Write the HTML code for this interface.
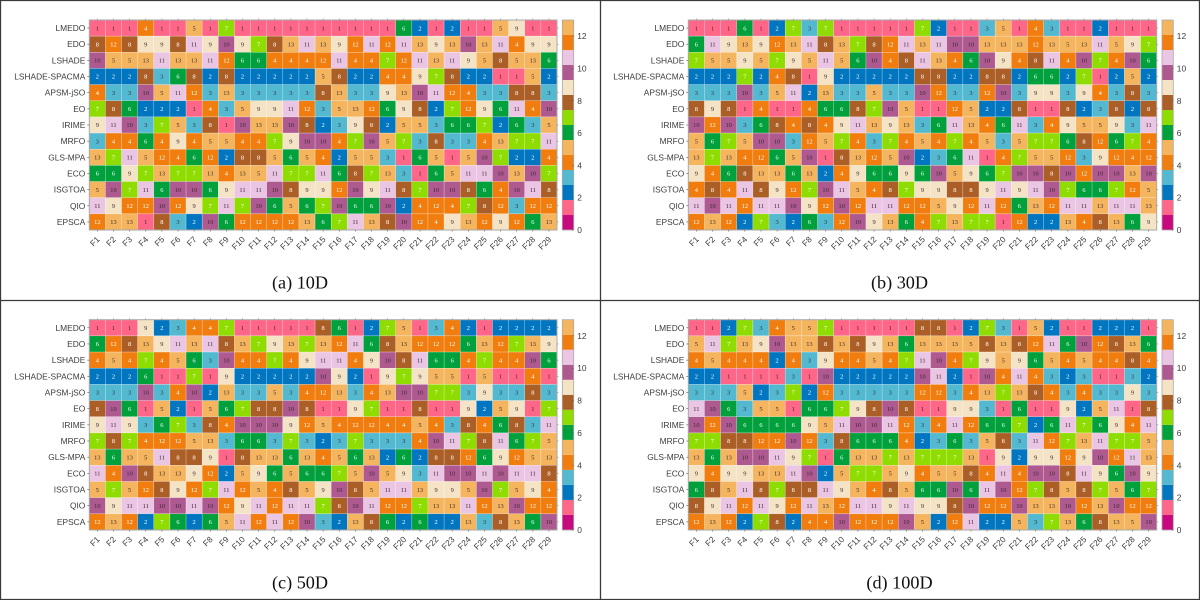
<!DOCTYPE html>
<html lang="en">
<head>
<meta charset="utf-8">
<title>Friedman rank heatmaps</title>
<style>
html,body{margin:0;padding:0;background:#fff;width:1200px;height:600px;overflow:hidden}
svg{display:block}
text{font-family:"Liberation Sans",sans-serif}
</style>
</head>
<body>
<svg id="chart" width="1200" height="600" viewBox="0 0 1200 600" xmlns="http://www.w3.org/2000/svg"></svg>
<script>
const algorithms = ["LMEDO","EDO","LSHADE","LSHADE-SPACMA","APSM-jSO","EO","IRIME","MRFO","GLS-MPA","ECO","ISGTOA","QIO","EPSCA"];
const functionLabels = ["F1","F2","F3","F4","F5","F6","F7","F8","F9","F10","F11","F12","F13","F14","F15","F16","F17","F18","F19","F20","F21","F22","F23","F24","F25","F26","F27","F28","F29"];
const colorbarTicks = [0,2,4,6,8,10,12];
const colorbarMax = 13;
const palette = ["#C8087F","#FF6688","#0075C0","#52B9D0","#F07D0E","#F4B55E","#00A03C","#8FDC00","#AB5F26","#F5E3C6","#AE5A91","#EBC6E4","#F07D0E","#F4B55E"];
const darkTextRanks = [1,3,5,9,10,11,13];

const ranks10D = [
[1,1,1,4,1,1,5,1,7,1,1,1,1,1,1,1,1,1,1,6,2,1,2,1,1,5,9,1,1],
[8,12,8,9,9,8,11,9,10,9,7,8,13,11,13,9,12,11,12,11,13,9,13,10,13,11,4,9,9],
[10,5,5,13,11,13,13,11,12,6,6,4,4,4,12,11,4,4,7,12,11,13,11,9,5,8,5,13,6],
[2,2,2,8,3,6,8,2,8,2,2,2,2,2,5,8,2,2,4,4,9,7,8,2,2,1,1,5,2],
[4,3,3,10,5,11,12,3,13,3,3,3,3,3,8,13,3,3,9,13,10,11,12,4,3,3,8,8,3],
[7,8,6,2,2,2,1,4,3,5,9,9,11,12,3,5,13,12,6,9,8,2,7,12,9,6,11,4,10],
[9,11,10,3,7,5,3,8,1,10,13,13,10,8,2,3,9,8,2,5,5,3,6,6,7,2,6,3,5],
[3,4,4,6,4,9,4,5,5,4,4,7,9,10,10,4,7,10,5,7,3,8,3,3,4,13,7,7,11],
[13,7,11,5,12,4,6,12,2,8,8,5,6,5,4,2,5,5,3,1,6,5,1,5,10,7,2,2,4],
[6,6,9,7,13,7,7,13,4,13,5,11,7,7,11,6,8,7,13,3,1,6,5,11,11,10,13,10,7],
[5,10,7,11,6,10,10,6,9,11,11,10,8,9,9,12,10,9,11,8,7,10,10,8,6,4,10,11,8],
[11,9,12,12,10,12,9,7,11,7,10,6,5,6,7,10,6,6,10,2,4,12,4,7,8,12,3,12,12],
[12,13,13,1,8,3,2,10,6,12,12,12,12,13,6,7,11,13,8,10,12,4,9,13,12,9,12,6,13]
];
const ranks30D = [
[1,1,1,6,1,2,7,3,7,1,1,1,1,1,7,2,1,1,3,5,1,4,3,1,1,2,1,1,1],
[6,11,9,13,9,12,13,11,8,13,7,8,12,11,13,11,10,10,13,13,13,12,13,5,13,11,5,9,7],
[7,5,5,9,5,7,9,5,11,5,6,10,4,8,11,13,4,6,10,9,4,8,11,4,10,7,4,10,6],
[2,2,2,7,2,4,8,1,9,2,2,2,2,2,8,8,2,2,8,8,2,6,6,2,7,1,2,5,2],
[3,3,3,10,3,5,11,2,13,3,3,5,3,3,10,12,3,3,12,10,3,9,9,3,9,4,3,8,3],
[8,9,8,1,4,1,1,4,6,6,8,7,10,5,1,1,12,5,2,2,8,1,1,8,2,3,8,2,8],
[10,12,10,3,6,8,4,8,4,9,11,13,9,13,3,6,11,13,4,6,11,3,4,9,5,5,9,3,11],
[5,6,7,5,10,10,3,12,5,7,4,3,7,4,5,4,7,4,5,3,5,7,7,6,8,12,6,7,4],
[13,7,13,4,12,6,5,10,1,8,13,12,5,10,2,3,6,11,1,4,7,5,5,12,3,9,12,4,12],
[9,4,6,8,13,13,6,13,2,4,9,6,6,9,6,10,5,9,6,7,10,10,8,10,12,10,10,13,10],
[4,8,4,11,8,9,12,7,10,11,5,4,8,7,9,9,8,8,9,11,9,11,10,7,6,6,7,12,5],
[11,10,11,12,11,11,10,9,12,10,12,11,11,12,12,5,9,12,11,12,6,13,12,11,11,13,11,11,13],
[12,13,12,2,7,3,2,6,3,12,10,9,13,6,4,7,13,7,7,1,12,2,2,13,4,8,13,6,9]
];
const ranks50D = [
[1,1,1,9,2,3,4,4,7,1,1,1,1,1,8,6,1,2,7,5,1,3,4,2,1,2,2,2,2],
[6,12,8,13,9,11,13,11,8,13,7,9,13,7,13,12,11,6,8,13,12,12,12,6,13,12,7,13,9],
[4,5,4,7,4,5,6,3,10,4,4,7,4,9,11,11,4,9,10,8,11,6,6,4,7,4,4,10,6],
[2,2,2,6,1,1,7,1,9,2,2,2,2,2,10,9,2,1,9,7,9,5,5,1,5,1,1,4,1],
[3,3,3,10,3,4,10,2,13,3,3,5,3,4,12,13,3,4,13,10,10,7,7,3,9,3,3,8,3],
[8,10,6,1,5,2,1,5,6,7,8,8,10,8,1,1,9,7,1,1,8,1,1,9,2,5,9,1,7],
[9,11,9,3,6,7,3,8,4,10,10,10,9,12,5,4,12,12,4,4,5,4,3,8,4,6,8,3,11],
[7,8,7,4,12,12,5,13,3,6,6,3,7,3,2,3,7,3,3,3,4,10,11,7,8,11,6,7,5],
[13,6,13,5,11,8,8,9,1,8,13,13,6,13,4,5,6,13,2,6,2,8,8,12,6,9,12,5,13],
[11,4,10,8,13,13,9,12,2,5,9,6,5,6,6,7,5,10,5,9,3,11,10,10,11,10,11,11,8],
[5,7,5,12,8,9,12,7,11,12,5,4,8,5,9,10,8,5,11,11,13,9,9,5,10,7,5,9,4],
[10,9,11,11,10,10,11,10,12,9,11,12,11,11,7,8,10,11,12,12,7,13,13,11,12,13,10,12,12],
[12,13,12,2,7,6,2,6,5,11,12,11,12,10,3,2,13,8,6,2,6,2,2,13,3,8,13,6,10]
];
const ranks100D = [
[1,1,2,7,3,4,5,5,7,1,1,1,1,1,8,8,1,2,7,3,1,5,2,1,1,2,2,2,1],
[5,11,7,13,9,10,13,13,8,13,8,9,13,6,13,13,13,5,8,13,8,12,11,6,10,12,8,13,6],
[4,5,4,4,4,2,4,3,9,4,4,5,4,7,11,10,4,7,9,5,9,6,5,4,5,4,4,8,4],
[2,2,1,1,1,1,3,1,10,2,2,2,2,2,10,11,2,1,10,4,11,4,3,2,3,1,1,3,2],
[3,3,3,5,2,3,7,2,12,3,3,3,3,3,12,12,3,4,13,7,13,8,4,3,4,3,3,9,3],
[11,10,6,3,5,5,1,6,6,7,9,8,10,8,1,1,9,9,3,1,6,1,1,9,2,5,11,1,8],
[10,12,10,6,6,6,6,9,5,11,10,10,11,12,3,4,11,12,6,6,7,2,6,11,7,6,9,4,11],
[7,7,8,8,12,12,10,12,3,8,6,6,6,4,2,3,6,3,5,8,3,11,12,7,13,11,7,7,5],
[13,6,13,10,10,11,9,7,1,6,13,13,7,13,7,7,7,13,1,9,2,9,9,12,9,10,12,11,13],
[9,4,9,9,13,13,11,10,2,5,7,7,5,9,4,5,5,8,4,11,4,10,10,8,11,9,6,10,9],
[6,8,5,11,8,7,8,8,11,9,5,4,8,5,6,6,10,6,11,10,12,7,8,5,8,7,5,6,7],
[8,9,11,12,11,9,12,11,13,12,11,11,9,11,9,9,8,10,12,12,10,13,13,10,12,13,10,12,12],
[12,13,12,2,7,8,2,4,4,10,12,12,12,10,5,2,12,11,2,2,5,3,7,13,6,8,13,5,10]
];
const captions = ["(a) 10D","(b) 30D","(c) 50D","(d) 100D"];

const NS = "http://www.w3.org/2000/svg";
const svg = document.getElementById("chart");

function make(tag, attrs, parent, txt) {
  const el = document.createElementNS(NS, tag);
  for (const k in attrs) el.setAttribute(k, attrs[k]);
  if (txt !== undefined) el.textContent = txt;
  parent.appendChild(el);
  return el;
}

function drawPanel(ranks, caption, left, top, plotRight, plotBottom, barLeft, barRight, captionX, captionY, key) {
  const g = make("g", {}, svg);
  
  
  const cellW = (plotRight - left) / functionLabels.length;
  const cellH = (plotBottom - top) / algorithms.length;
  const xAxis = function (i) { return left + i * cellW; };
  const yAxis = function (i) { return top + i * cellH; };
  const barAxis = function (v) { return plotBottom - (v / colorbarMax) * (plotBottom - top); };

  ranks.forEach(function (row, r) {
    row.forEach(function (value, c) {
      const cell = make("rect", {x: xAxis(c), y: yAxis(r), width: cellW, height: cellH, fill: palette[value], stroke: "#fff", "stroke-opacity": 0.45, "stroke-width": 0.5}, g);
      
      
      const label = make("text", {x: xAxis(c) + cellW / 2, y: yAxis(r) + cellH / 2 + 2.2, "text-anchor": "middle", "font-size": 6.4, fill: darkTextRanks.indexOf(value) >= 0 ? "#3a2a30" : "#fff", style: 'font-family:"Liberation Serif",serif'}, g, value);
      
      
    });
  });

  const frame = make("rect", {x: left, y: top, width: plotRight - left, height: plotBottom - top, fill: "none", stroke: "#a8a8a8", "stroke-width": 1}, g);
  
  

  algorithms.forEach(function (name, r) {
    const yc = yAxis(r) + cellH / 2;
    make("line", {x1: left - 2, x2: left, y1: yc, y2: yc, stroke: "#555", "stroke-width": 0.6}, g);
    make("line", {x1: plotRight, x2: plotRight + 1.5, y1: yc, y2: yc, stroke: "#777", "stroke-width": 0.5}, g);
    const label = make("text", {x: left - 4, y: yc + 3, "text-anchor": "end", "font-size": 8.4, fill: "#3c3c3c"}, g, name);
    
    
  });

  functionLabels.forEach(function (name, c) {
    const xc = xAxis(c) + cellW / 2;
    make("line", {x1: xc, x2: xc, y1: plotBottom, y2: plotBottom + 1.5, stroke: "#555", "stroke-width": 0.6}, g);
    make("line", {x1: xc, x2: xc, y1: top - 1.5, y2: top, stroke: "#777", "stroke-width": 0.5}, g);
    const lx = xc + 3;
    const ly = plotBottom + 10;
    const label = make("text", {x: lx, y: ly, "text-anchor": "end", "font-size": 8.4, fill: "#3c3c3c", transform: "rotate(-45 " + lx + " " + ly + ")"}, g, name);
    
    
  });

  const segH = (plotBottom - top) / palette.length;
  palette.forEach(function (color, i) {
    const seg = make("rect", {x: barLeft, y: plotBottom - (i + 1) * segH, width: barRight - barLeft, height: segH, fill: color}, g);
    
    
  });
  const barFrame = make("rect", {x: barLeft, y: top, width: barRight - barLeft, height: plotBottom - top, fill: "none", stroke: "#a8a8a8", "stroke-width": 0.8}, g);
  
  

  colorbarTicks.forEach(function (t) {
    const yt = barAxis(t);
    make("line", {x1: barRight - 1.5, x2: barRight, y1: yt, y2: yt, stroke: "#555", "stroke-width": 0.6}, g);
    const label = make("text", {x: barRight + 3.5, y: yt + 3, "font-size": 8.4, fill: "#3c3c3c"}, g, t);
    
    
  });

  const cap = make("text", {x: captionX, y: captionY, "text-anchor": "middle", "font-size": 18.2, fill: "#111", style: 'font-family:"Liberation Serif",serif'}, g, caption);
  
  
}

drawPanel(ranks10D, captions[0], 89.3, 20, 557, 230, 562.3, 573.7, 300, 288.3, "10d");
drawPanel(ranks30D, captions[1], 688.3, 20, 1156.7, 230, 1162, 1173.3, 899.5, 288.3, "30d");
drawPanel(ranks50D, captions[2], 89.3, 319.7, 557, 530, 562.3, 573.7, 300, 588.3, "50d");
drawPanel(ranks100D, captions[3], 688.3, 319.7, 1156.7, 530, 1162, 1173.3, 899.5, 588.3, "100d");

const dividers = [[0,0.5,1200,0.5],[0,300.5,1200,300.5],[0,599.5,1200,599.5],[0.5,0,0.5,600],[600.5,0,600.5,600],[1199.5,0,1199.5,600]];
dividers.forEach(function (d) {
  const line = make("line", {x1: d[0], y1: d[1], x2: d[2], y2: d[3], stroke: "#3a3a3a", "stroke-width": 1.3}, svg);
  
  
});
</script>
</body>
</html>
